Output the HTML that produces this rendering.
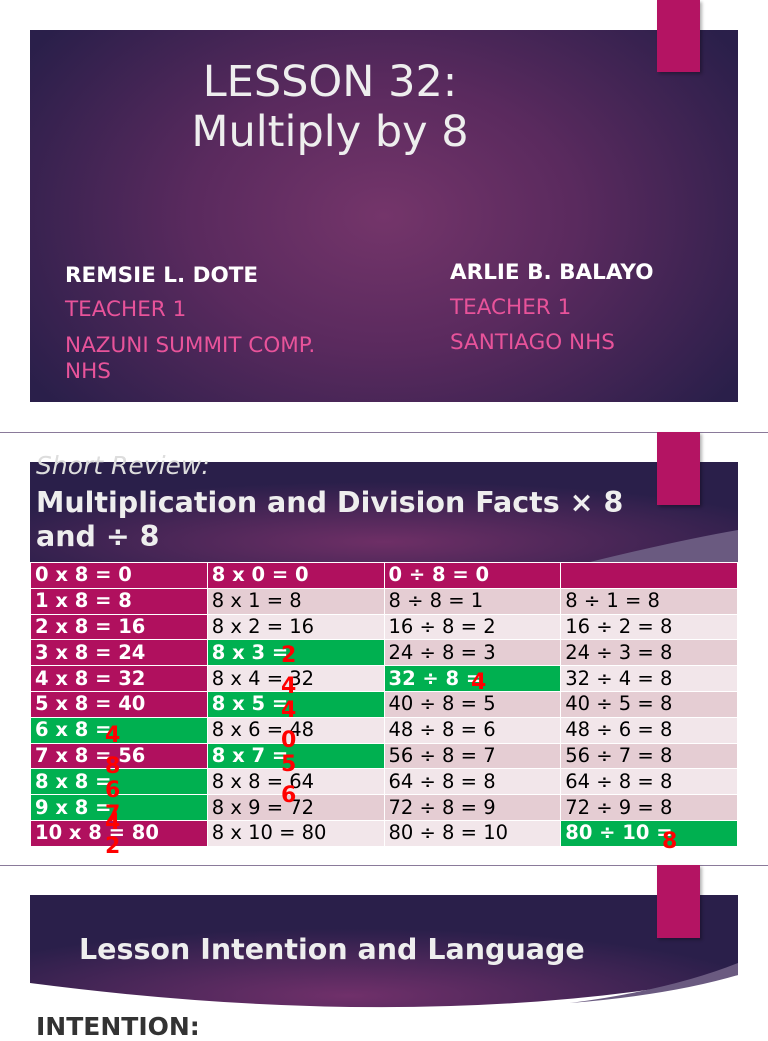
<!DOCTYPE html>
<html><head><meta charset="utf-8"><style>
*{margin:0;padding:0;box-sizing:border-box}
body{width:768px;height:1024px;background:#fff;position:relative;overflow:hidden;font-family:"DejaVu Sans","Liberation Sans",sans-serif}
.abs{position:absolute}
.grad{background:radial-gradient(ellipse 60% 80% at 50% 50%,#74356a 0%,#5a2a5e 45%,#2a1f4a 100%)}
.tab{position:absolute;left:657px;width:43px;background:#b41463;box-shadow:2px 2px 3px rgba(0,0,0,.3)}
.sep{position:absolute;left:0;width:768px;height:1px;background:#8a7a9a}
table{position:absolute;left:30px;top:562px;width:708px;border-collapse:collapse;table-layout:fixed}
td{height:25.8px;font-size:19.5px;padding:0 4px;color:#000;border:1px solid #fff;white-space:nowrap;overflow:visible;line-height:24px}
td.m{background:#b0105e;color:#fff;font-weight:bold}
td.g{background:#00b050;color:#fff;font-weight:bold}
tr.d td.n{background:#e5cdd3}
tr.l td.n{background:#f2e6ea}
.r{position:absolute;color:#ff0000;font-weight:bold;font-size:22px;line-height:22px}
</style></head><body>
<div class="abs grad" style="left:30px;top:30px;width:708px;height:372px"></div>
<div class="tab" style="top:0;height:72px"></div>
<div class="abs" style="left:140px;top:57px;width:380px;text-align:center;color:#eee;font-size:43px;line-height:50px">LESSON 32:<br>Multiply by 8</div>
<div class="abs" style="left:65px;top:263px;color:#fff;font-size:21.5px;font-weight:bold">REMSIE L. DOTE</div>
<div class="abs" style="left:65px;top:297px;color:#e8539a;font-size:21.5px">TEACHER 1</div>
<div class="abs" style="left:65px;top:333px;color:#e8539a;font-size:21.5px;line-height:26px">NAZUNI SUMMIT COMP.<br>NHS</div>
<div class="abs" style="left:450px;top:260px;color:#fff;font-size:21.5px;font-weight:bold">ARLIE B. BALAYO</div>
<div class="abs" style="left:450px;top:295px;color:#e8539a;font-size:21.5px">TEACHER 1</div>
<div class="abs" style="left:450px;top:330px;color:#e8539a;font-size:21.5px">SANTIAGO NHS</div>

<div class="sep" style="top:432px"></div>
<svg class="abs" style="left:30px;top:462px" width="708" height="100"><defs><radialGradient id="g2" cx="0.5" cy="0.8" r="0.6"><stop offset="0" stop-color="#6e2f66"/><stop offset="1" stop-color="#2a1f4a"/></radialGradient></defs><path d="M0 0H708V100H0Z" fill="url(#g2)"/><path d="M560 100Q650 78 708 68V100Z" fill="#6a5a80"/></svg>
<div class="tab" style="top:432px;height:73px"></div>
<div class="abs" style="left:36px;top:451px;color:#ddd;font-size:25px;font-style:italic">Short Review:</div>
<div class="abs" style="left:36px;top:486px;color:#eee;font-size:28.5px;font-weight:bold;line-height:34px">Multiplication and Division Facts × 8<br>and ÷ 8</div>
<table>
<tr><td class="m">0 x 8 = 0</td><td class="m">8 x 0 = 0</td><td class="m">0 ÷ 8 = 0</td><td class="m"></td></tr>
<tr class="d"><td class="m">1 x 8 = 8</td><td class="n">8 x 1 = 8</td><td class="n">8 ÷ 8 = 1</td><td class="n">8 ÷ 1 = 8</td></tr>
<tr class="l"><td class="m">2 x 8 = 16</td><td class="n">8 x 2 = 16</td><td class="n">16 ÷ 8 = 2</td><td class="n">16 ÷ 2 = 8</td></tr>
<tr class="d"><td class="m">3 x 8 = 24</td><td class="g">8 x 3 =</td><td class="n">24 ÷ 8 = 3</td><td class="n">24 ÷ 3 = 8</td></tr>
<tr class="l"><td class="m">4 x 8 = 32</td><td class="n">8 x 4 = 32</td><td class="g">32 ÷ 8 =</td><td class="n">32 ÷ 4 = 8</td></tr>
<tr class="d"><td class="m">5 x 8 = 40</td><td class="g">8 x 5 =</td><td class="n">40 ÷ 8 = 5</td><td class="n">40 ÷ 5 = 8</td></tr>
<tr class="l"><td class="g">6 x 8 =</td><td class="n">8 x 6 = 48</td><td class="n">48 ÷ 8 = 6</td><td class="n">48 ÷ 6 = 8</td></tr>
<tr class="d"><td class="m">7 x 8 = 56</td><td class="g">8 x 7 =</td><td class="n">56 ÷ 8 = 7</td><td class="n">56 ÷ 7 = 8</td></tr>
<tr class="l"><td class="g">8 x 8 =</td><td class="n">8 x 8 = 64</td><td class="n">64 ÷ 8 = 8</td><td class="n">64 ÷ 8 = 8</td></tr>
<tr class="d"><td class="g">9 x 8 =</td><td class="n">8 x 9 = 72</td><td class="n">72 ÷ 8 = 9</td><td class="n">72 ÷ 9 = 8</td></tr>
<tr class="l"><td class="m">10 x 8 = 80</td><td class="n">8 x 10 = 80</td><td class="n">80 ÷ 8 = 10</td><td class="g">80 ÷ 10 =</td></tr>
</table>
<div>
<div class="r" style="left:281px;top:645px">2</div>
<div class="r" style="left:281px;top:676px">4</div>
<div class="r" style="left:281px;top:700px">4</div>
<div class="r" style="left:281px;top:730px">0</div>
<div class="r" style="left:281px;top:754px">5</div>
<div class="r" style="left:281px;top:785px">6</div>
<div class="r" style="left:105px;top:725px">4</div>
<div class="r" style="left:105px;top:756px">8</div>
<div class="r" style="left:105px;top:780px">6</div>
<div class="r" style="left:105px;top:804px">7</div>
<div class="r" style="left:105px;top:812px">4</div>
<div class="r" style="left:105px;top:836px">2</div>
<div class="r" style="left:471px;top:672px">4</div>
<div class="r" style="left:662px;top:831px">8</div>
</div>

<div class="sep" style="top:865px"></div>
<svg class="abs" style="left:30px;top:895px" width="708" height="118"><defs><radialGradient id="g3" cx="0.45" cy="0.9" r="0.6"><stop offset="0" stop-color="#70306a"/><stop offset="1" stop-color="#2a1f4a"/></radialGradient></defs><path d="M0 0H708V80Q400 140 0 88Z" fill="url(#g3)"/><path d="M540 108Q640 95 708 68V80Q640 100 540 108Z" fill="#6a5a80"/></svg>
<div class="tab" style="top:865px;height:73px"></div>
<div class="abs" style="left:79px;top:933px;color:#eee;font-size:28.5px;font-weight:bold">Lesson Intention and Language</div>
<div class="abs" style="left:36px;top:1012px;color:#333;font-size:25px;font-weight:bold">INTENTION:</div>
</body></html>
